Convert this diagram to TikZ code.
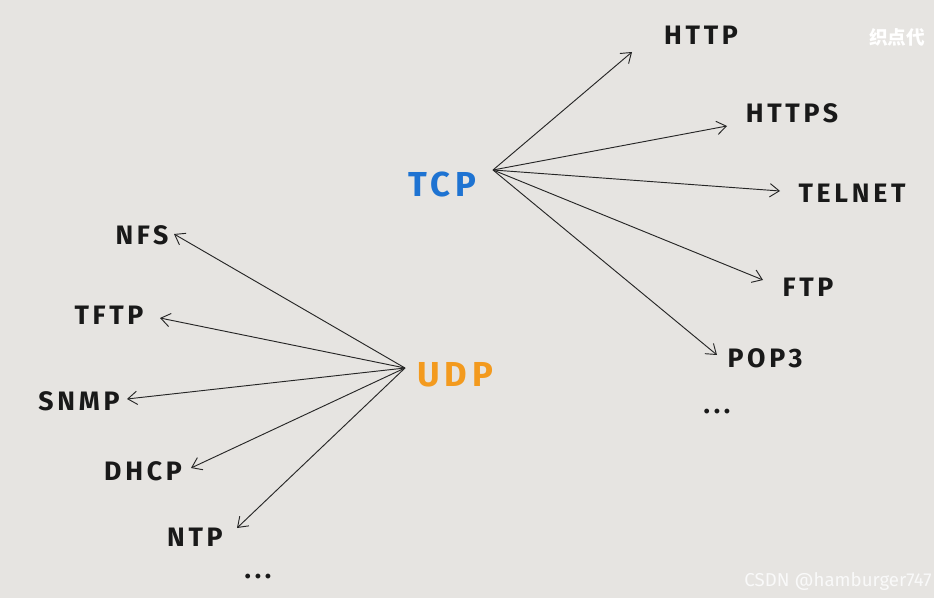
\documentclass[tikz,border=0pt]{standalone}
\usepackage{fontspec}
\setmainfont{Fira Sans}
\newfontfamily\cjk{Noto Sans CJK SC}
\usetikzlibrary{arrows.meta}
\definecolor{bg}{HTML}{E6E4E1}
\definecolor{tcpc}{HTML}{1E73D2}
\definecolor{udpc}{HTML}{F39A1E}
\tikzset{
 lab/.style={font=\fontsize{20}{24}\selectfont\bfseries\addfontfeature{LetterSpace=14}, text=black!90, inner sep=1pt},
 big/.style={font=\fontsize{26}{30}\selectfont\bfseries\addfontfeature{LetterSpace=14}, inner sep=1pt},
 arr/.style={-{Straight Barb[length=7pt,width=10pt]}, line width=0.7pt, black!85}
}
\begin{document}
\begin{tikzpicture}[x=0.75pt,y=-0.75pt]
\fill[bg] (0,0) rectangle (934,598);
\useasboundingbox (0,0) rectangle (934,598);
\node[big,text=tcpc] (tcp) at (442,184) {TCP};
\node[big,text=udpc] (udp) at (455,375) {UDP};
\coordinate (to) at (493,170);
\coordinate (uo) at (405,368);
\node[lab] (http) at (701,35) {HTTP};
\node[lab] (https) at (792,113) {HTTPS};
\node[lab] (telnet) at (852,193) {TELNET};
\node[lab] (ftp) at (808,287) {FTP};
\node[lab] (pop) at (765,358) {POP3};
\node[lab] (d1) at (717,412) {...};
\node[lab] (nfs) at (142,235) {NFS};
\node[lab] (tftp) at (109,315) {TFTP};
\node[lab] (snmp) at (79,401) {SNMP};
\node[lab] (dhcp) at (143,471) {DHCP};
\node[lab] (ntp) at (195,537) {NTP};
\node[lab] (d2) at (258,577) {...};
\coordinate (ehttp) at (632,52);
\coordinate (ehttps) at (727,126);
\coordinate (etelnet) at (780,191);
\coordinate (eftp) at (763,280);
\coordinate (epop) at (717,355);
\coordinate (enfs) at (174,234);
\coordinate (etftp) at (160,318);
\coordinate (esnmp) at (127,399);
\coordinate (edhcp) at (191,468);
\coordinate (entp) at (237,528);
\foreach \e in {ehttp,ehttps,etelnet,eftp,epop} \draw[arr] (to) -- (\e);
\foreach \e in {enfs,etftp,esnmp,edhcp,entp} \draw[arr] (uo) -- (\e);
\node[font=\cjk\fontsize{14}{16}\selectfont\bfseries,text=white] (wm1) at (897,37) {织点代};
\node[font=\fontsize{14}{16}\selectfont,text=white!95!gray] (wm2) at (838,581) {CSDN @hamburger747};
\end{tikzpicture}
\end{document}
